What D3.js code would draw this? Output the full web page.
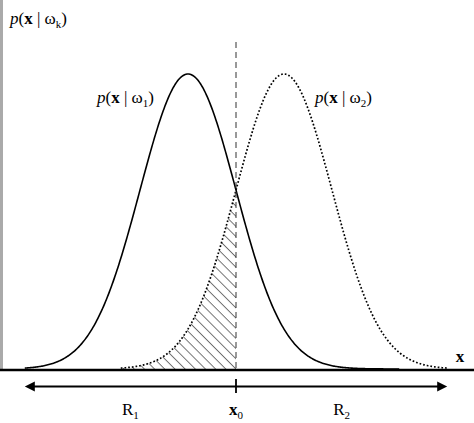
<!DOCTYPE html>
<html><head><meta charset="utf-8">
<script src="https://cdn.jsdelivr.net/npm/d3@7"></script>
<style>
html,body{margin:0;padding:0;background:#fff;}
svg{display:block;font-family:"Liberation Serif","Times New Roman",serif;}
</style></head>
<body>
<script>
// Class-conditional densities (Gaussian parameters)
const classes = ["ω1", "ω2"];
const means = [-1, 1];
const sigmas = [1, 1];
const threshold = 0;             // decision boundary x0
const xDomain = [-4.9, 4.9];
const curveExtent = [[-4.4, 3.4], [-2.4, 4.4]];
const regionLabels = ["R1", "R2"];
const regionCenters = [-2.2, 2.2];

const W = 474, H = 423;
const x = d3.scaleLinear().domain(xDomain).range([0.8, 471.2]);
const y = d3.scaleLinear().domain([0, 0.499]).range([369, 0]);

const pdf = (v, m, s) => Math.exp(-0.5 * ((v - m) / s) ** 2) / (s * Math.sqrt(2 * Math.PI));
const sample = (a, b) => d3.range(a, b + 1e-9, 0.02);

const svg = d3.select("body").append("svg").attr("width", W).attr("height", H);

const defs = svg.append("defs");
const pat = defs.append("pattern").attr("id", "hatch").attr("patternUnits", "userSpaceOnUse")
  .attr("width", 7.2).attr("height", 7.2).attr("patternTransform", "rotate(45)");
pat.append("line").attr("x1", 0).attr("y1", 0.5).attr("x2", 7.2).attr("y2", 0.5)
  .attr("stroke", "#666").attr("stroke-width", 0.9);

// hatched area: p(x|ω2) for x < x0
const area = d3.area().x(d => x(d)).y0(y(0)).y1(d => y(pdf(d, means[1], sigmas[1])));
svg.append("path").datum(sample(curveExtent[1][0], threshold))
  .attr("d", area).attr("fill", "url(#hatch)");

// left axis
svg.append("line").attr("x1", 1.5).attr("x2", 1.5).attr("y1", 0).attr("y2", y(0))
  .attr("stroke", "#aaa").attr("stroke-width", 3);

// curves
const line = (i) => d3.line().x(d => x(d)).y(d => y(pdf(d, means[i], sigmas[i])));
svg.append("path").datum(sample(curveExtent[0][0], curveExtent[0][1]))
  .attr("d", line(0)).attr("fill", "none").attr("stroke", "#000").attr("stroke-width", 1.6);
svg.append("path").datum(sample(curveExtent[1][0], curveExtent[1][1]))
  .attr("d", line(1)).attr("fill", "none").attr("stroke", "#000").attr("stroke-width", 1.7)
  .attr("stroke-dasharray", "1.7,2");

// decision boundary
svg.append("line").attr("x1", x(threshold)).attr("x2", x(threshold)).attr("y1", 42).attr("y2", y(0))
  .attr("stroke", "#333").attr("stroke-width", 1).attr("stroke-dasharray", "6,4");

// baseline x axis
svg.append("line").attr("x1", 0).attr("x2", W).attr("y1", y(0) + 1).attr("y2", y(0) + 1)
  .attr("stroke", "#000").attr("stroke-width", 2.5);

// region arrow
const ay = 386.5;
svg.append("line").attr("x1", x(-4.4) + 6).attr("x2", x(4.4) - 6).attr("y1", ay).attr("y2", ay)
  .attr("stroke", "#000").attr("stroke-width", 2);
const xl = x(-4.4), xr = x(4.4);
svg.append("path").attr("d", `M${xl},${ay} L${xl + 10},${ay - 5} L${xl + 10},${ay + 5} Z`).attr("fill", "#000");
svg.append("path").attr("d", `M${xr},${ay} L${xr - 10},${ay - 5} L${xr - 10},${ay + 5} Z`).attr("fill", "#000");
svg.append("line").attr("x1", x(threshold)).attr("x2", x(threshold)).attr("y1", 379).attr("y2", 393)
  .attr("stroke", "#000").attr("stroke-width", 1.8);

// labels
function pLabel(tx, ty, sub, anchor) {
  const t = svg.append("text").attr("x", tx).attr("y", ty).attr("font-size", 17).attr("text-anchor", anchor || "start");
  t.append("tspan").attr("font-style", "italic").text("p");
  t.append("tspan").text("(");
  t.append("tspan").attr("font-weight", "bold").text("x");
  t.append("tspan").text(" | ω");
  t.append("tspan").attr("font-size", 11).attr("dy", 4).text(sub);
  t.append("tspan").attr("dy", -4).text(")");
}
pLabel(10, 24, "k");
pLabel(97, 103, "1");
pLabel(315, 103, "2");

svg.append("text").attr("x", 460).attr("y", 362).attr("font-size", 17).attr("font-weight", "bold")
  .attr("text-anchor", "middle").text("x");

function subLabel(cx, txt, sub, bold) {
  const t = svg.append("text").attr("x", cx).attr("y", 415).attr("font-size", 17).attr("text-anchor", "middle");
  t.append("tspan").attr("font-weight", bold ? "bold" : "normal").text(txt);
  t.append("tspan").attr("font-size", 11).attr("dy", 4).text(sub);
}
subLabel(x(regionCenters[0]), regionLabels[0][0], regionLabels[0][1]);
subLabel(x(threshold), "x", "0", true);
subLabel(x(regionCenters[1]), regionLabels[1][0], regionLabels[1][1]);
</script>
</body></html>
